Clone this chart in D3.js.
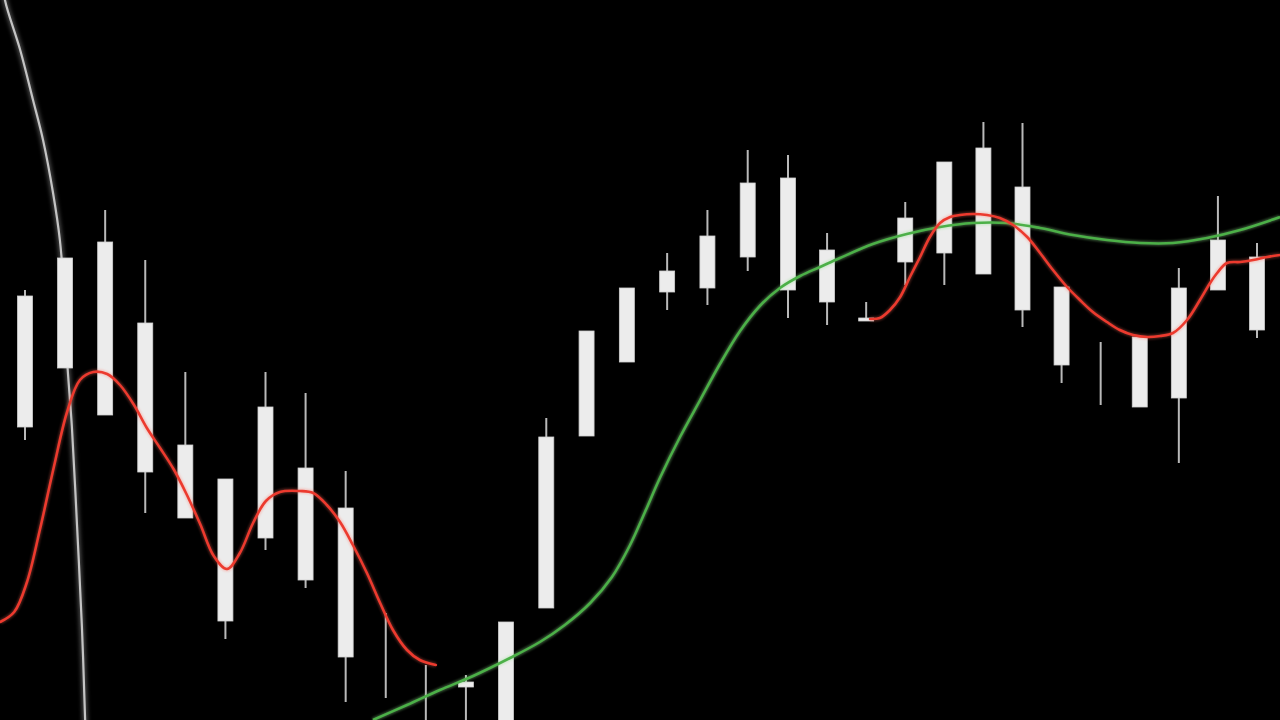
<!DOCTYPE html>
<html>
<head>
<meta charset="utf-8">
<script src="https://cdn.jsdelivr.net/npm/d3@7/dist/d3.min.js"></script>
<style>
html,body{margin:0;padding:0;background:#000;overflow:hidden;}
svg{display:block;}
</style>
</head>
<body>
<svg id="chart" width="1280" height="720"></svg>
<script>
// ---- data ----
const candleIndex = d3.range(32);
const opens  = [129.3,135.2,130.5,124.8,120.2,109.9,118.2,114.0,106.3,104.6,97.7,103.3,93.0,111.2,128.4,135.8,142.8,143.2,146.3,143.0,141.8,139.9,145.8,146.7,144.6,141.0,135.5,135.0,131.3,132.2,143.0,139.0];
const closes = [142.4,146.2,147.8,139.7,127.5,124.1,131.3,125.2,121.2,104.6,98.0,103.8,109.8,128.3,138.9,143.2,144.9,148.4,153.7,154.2,147.0,140.2,150.2,155.8,157.2,153.3,143.3,135.0,138.3,143.2,148.0,146.3];
const highs  = [143.0,146.2,151.0,146.0,134.8,124.1,134.8,132.7,124.9,110.7,105.5,104.5,109.8,130.2,138.9,143.2,146.7,151.0,157.0,156.5,148.7,141.8,151.8,155.8,159.8,159.7,143.3,137.8,138.3,145.2,152.4,147.7];
const lows   = [128.0,135.2,130.5,120.7,120.2,108.1,117.0,113.2,101.8,102.2,96.0,96.0,92.0,111.2,128.4,135.8,141.0,141.5,144.9,140.2,139.5,139.9,143.5,143.5,144.6,139.3,133.7,131.5,131.3,125.7,143.0,138.2];

// fast moving average (red), two visible segments
const redT1 = [-0.62,-0.27,0.05,0.37,0.72,1.05,1.37,1.70,2.05,2.37,2.72,3.04,3.37,3.72,4.04,4.37,4.71,5.04,5.36,5.69,6.01,6.36,6.86,7.19,7.53,7.86,8.18,8.53,8.86,9.18,9.53,9.85,10.25];
const redV1 = [109.8,110.8,113.8,119.0,125.3,130.8,134.0,134.8,134.6,133.5,131.5,129.2,127.2,125.0,122.5,119.6,116.4,115.1,116.7,119.7,121.9,122.8,122.9,122.7,121.5,119.8,117.5,114.7,111.7,109.0,107.0,106.0,105.5];
const redT2 = [21.10,21.35,21.61,21.87,22.12,22.38,22.63,22.89,23.15,23.40,23.73,24.09,24.42,24.76,25.12,25.45,25.78,26.14,26.47,26.80,27.16,27.49,27.83,28.19,28.52,28.85,29.21,29.54,29.80,29.98,30.23,30.57,30.90,31.26,31.59];
const redV2 = [140.1,140.2,141.0,142.3,144.3,146.3,148.3,149.7,150.3,150.5,150.6,150.5,150.2,149.5,148.3,146.7,145.0,143.3,142.0,140.8,139.8,139.0,138.5,138.3,138.4,138.7,140.0,142.0,143.7,144.7,145.7,145.8,146.0,146.3,146.5];

// slow moving average (green)
const greenT = [8.68,9.53,10.35,11.18,12.10,12.84,13.46,14.09,14.63,15.08,15.45,15.82,16.32,16.82,17.31,17.81,18.30,18.80,19.31,19.82,20.33,21.17,22.04,22.89,23.73,24.60,25.45,26.29,27.16,28.01,28.85,29.72,30.57,31.59];
const greenV = [100.0,101.5,103.0,104.4,106.2,107.8,109.5,111.7,114.3,117.5,120.8,124.2,128.3,132.0,135.6,138.9,141.4,143.2,144.4,145.3,146.2,147.6,148.6,149.3,149.7,149.7,149.2,148.5,148.0,147.7,147.7,148.2,149.0,150.3];

// long-period curve (gray)
const grayT = [-0.55,-0.50,-0.12,0.20,0.45,0.70,0.87,0.97,1.05,1.17,1.30,1.42,1.50,1.52];
const grayV = [174.0,172.0,167.0,162.0,158.0,152.7,148.0,143.0,136.0,129.3,119.3,109.3,100.0,97.0];

// ---- chart ----
const W = 1280, H = 720;
const svg = d3.select("#chart");
svg.append("rect").attr("width", W).attr("height", H).attr("fill", "#000");

// slightly non-uniform time axis (perspective of the source image)
const x = d3.scaleLinear().domain([0, 12, 19, 31]).range([25, 506, 788, 1257]);
const y = d3.scaleLinear().domain([100, 172]).range([H, 0]);

const defs = svg.append("defs");
function glow(id, sd) {
  const f = defs.append("filter").attr("id", id)
    .attr("x", "-20%").attr("y", "-20%").attr("width", "140%").attr("height", "140%");
  f.append("feGaussianBlur").attr("stdDeviation", sd);
}
glow("blur2", 2);
glow("blur1", 1.2);

const line = d3.line().x(d => x(d[0])).y(d => y(d[1])).curve(d3.curveCatmullRom.alpha(0.5));
const zip = (a, b) => a.map((v, i) => [v, b[i]]);

// gray curve (behind candles)
const grayPts = zip(grayT, grayV);
svg.append("path").attr("d", line(grayPts)).attr("fill", "none")
  .attr("stroke", "#e0e0e0").attr("stroke-width", 5).attr("opacity", 0.35).attr("filter", "url(#blur2)");
svg.append("path").attr("d", line(grayPts)).attr("fill", "none")
  .attr("stroke", "#c4c4c4").attr("stroke-width", 2.2);

// candles
const candles = candleIndex.map(i => ({i, o: opens[i], c: closes[i], h: highs[i], l: lows[i]}));
const bw = 15;
const g = svg.append("g");
g.selectAll("line.wick").data(candles).join("line").attr("class", "wick")
  .attr("x1", d => x(d.i)).attr("x2", d => x(d.i))
  .attr("y1", d => y(d.h)).attr("y2", d => y(d.l))
  .attr("stroke", "#b9b9b9").attr("stroke-width", 2);
g.selectAll("rect.body").data(candles.filter(d => Math.abs(d.o - d.c) > 0.05)).join("rect").attr("class", "body")
  .attr("x", d => x(d.i) - bw / 2)
  .attr("y", d => y(Math.max(d.o, d.c)))
  .attr("width", bw)
  .attr("height", d => Math.max(3, Math.abs(y(d.o) - y(d.c))))
  .attr("fill", "#ececec").attr("stroke", "#cfcfcf").attr("stroke-width", 0.8);

// green MA
const greenPts = zip(greenT, greenV);
svg.append("path").attr("d", line(greenPts)).attr("fill", "none")
  .attr("stroke", "#8fe08a").attr("stroke-width", 5).attr("opacity", 0.35).attr("filter", "url(#blur1)");
svg.append("path").attr("d", line(greenPts)).attr("fill", "none")
  .attr("stroke", "#4cb048").attr("stroke-width", 2.6);

// red MA
[zip(redT1, redV1), zip(redT2, redV2)].forEach(pts => {
  svg.append("path").attr("d", line(pts)).attr("fill", "none")
    .attr("stroke", "#ff6a5a").attr("stroke-width", 5).attr("opacity", 0.3).attr("filter", "url(#blur1)");
  svg.append("path").attr("d", line(pts)).attr("fill", "none")
    .attr("stroke", "#ec3a2e").attr("stroke-width", 2.6).attr("stroke-linecap", "round");
});
</script>
</body>
</html>
